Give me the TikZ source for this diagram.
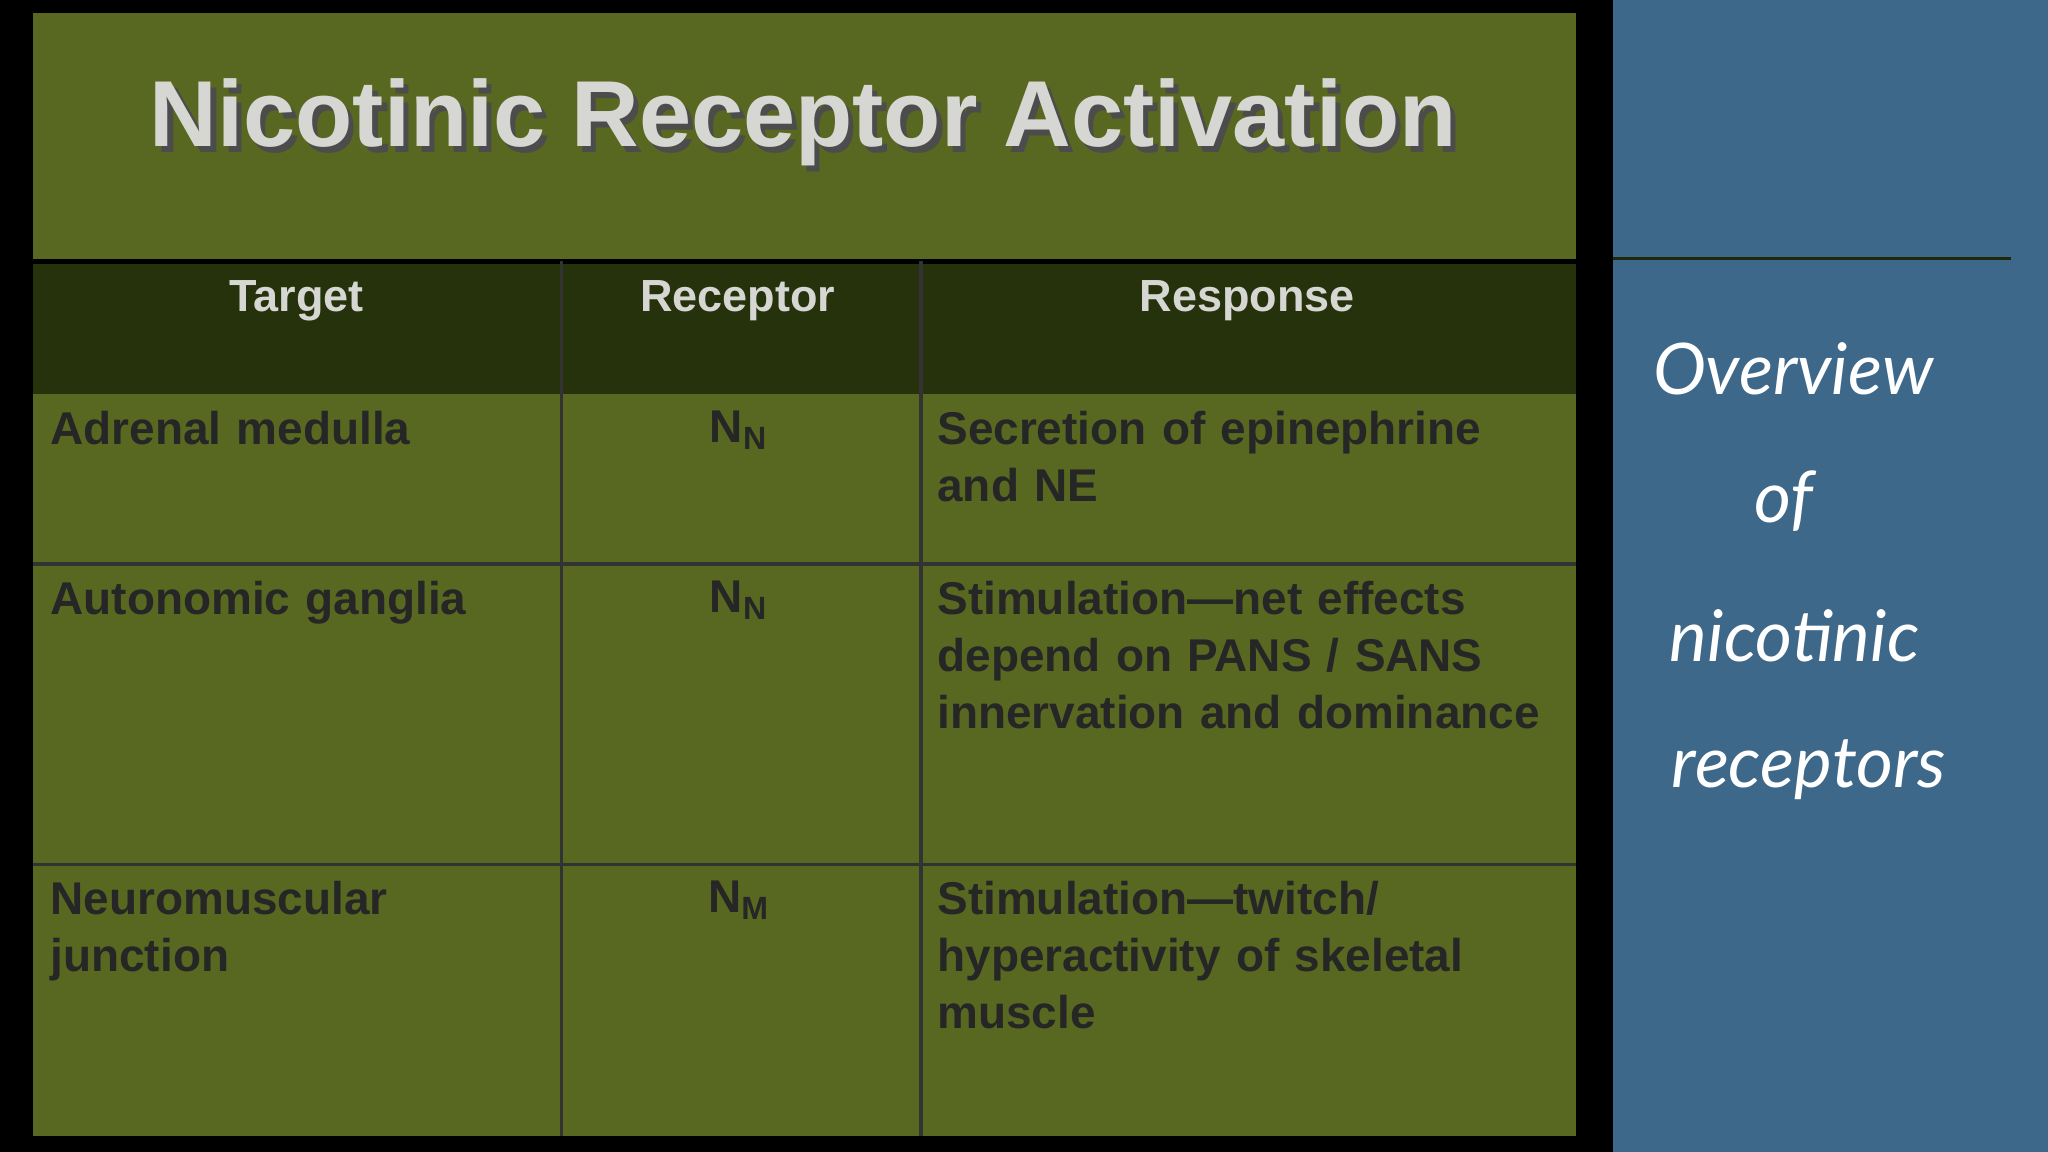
\documentclass[tikz,border=0pt]{standalone}
\usepackage{fontspec}
\setmainfont{Liberation Sans}
\newfontfamily\sidefont{Lato}
\definecolor{olive}{RGB}{88,104,32}
\definecolor{hdark}{RGB}{38,50,12}
\definecolor{slate}{RGB}{62,104,138}
\definecolor{titlegray}{RGB}{214,214,210}
\tikzset{
  cell/.style={anchor=north west, align=left, text width=4.4cm, font=\fontsize{10}{12.4}\selectfont\bfseries, text=black!85, inner sep=0pt},
  head/.style={anchor=north, font=\fontsize{9.8}{12}\selectfont\bfseries, text=titlegray, inner sep=0pt},
  rec/.style={anchor=north, font=\fontsize{10}{12}\selectfont\bfseries, text=black!85, inner sep=0pt},
  side/.style={font=\fontsize{15.5}{17}\selectfont\sidefont\itshape, text=white}
}
\begin{document}
\begin{tikzpicture}[x=0.01cm,y=-0.01cm]
\useasboundingbox (0,0) rectangle (1568,882);
% backgrounds
\fill[black] (0,0) rectangle (1235,882);
\fill[slate] (1235,0) rectangle (1568,882);
\draw[hdark!80!black, line width=0.8pt] (1235,198) -- (1540,198);
\fill[olive] (25,10) rectangle (1207,870);
\fill[hdark] (25,200) rectangle (1207,302);
\draw[black, line width=1pt] (25,200) -- (1207,200);
% grid
\draw[black!80, line width=0.8pt] (25,432) -- (1207,432) (25,662) -- (1207,662)
  (430,200) -- (430,870) (705,200) -- (705,870);
% title
\node[font=\fontsize{20.4}{22}\selectfont\bfseries, text=black!70] at (619,98) {Nicotinic Receptor Activation};
\node[font=\fontsize{20.4}{22}\selectfont\bfseries, text=titlegray] (title) at (615,94) {Nicotinic Receptor Activation};
% header
\node[head] (h1) at (227,214) {Target};
\node[head] (h2) at (565,214) {Receptor};
\node[head] (h3) at (955,214) {Response};
% rows
\node[cell] (t1) at (38,314) {Adrenal medulla};
\node[rec] (r1) at (566,314) {N\textsubscript{N}};
\node[cell, text width=4.8cm] (s1) at (717,314) {Secretion of epinephrine\\and NE};
\node[cell] (t2) at (38,444) {Autonomic ganglia};
\node[rec] (r2) at (566,444) {N\textsubscript{N}};
\node[cell, text width=4.8cm] (s2) at (717,444) {Stimulation---net effects\\depend on PANS / SANS\\innervation and dominance};
\node[cell] (t3) at (38,674) {Neuromuscular\\junction};
\node[rec] (r3) at (566,674) {N\textsubscript{M}};
\node[cell, text width=4.8cm] (s3) at (717,674) {Stimulation---twitch/\\hyperactivity of skeletal\\muscle};
% side text
\node[side] (o1) at (1373,282) {Overview};
\node[side] (o2) at (1366,384) {of};
\node[side] (o3) at (1374,487) {nicotinic};
\node[side] (o4) at (1385,589) {receptors};
\end{tikzpicture}
\end{document}
